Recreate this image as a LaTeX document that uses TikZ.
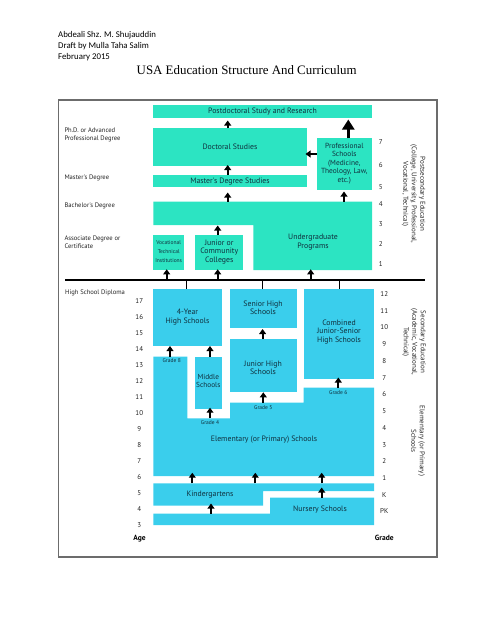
\documentclass[tikz,border=0pt]{standalone}
\usepackage{fontspec}
\setmainfont{Carlito}
\newfontfamily\dgfont{PT Sans}
\newfontfamily\titlefont{Liberation Serif}
\usetikzlibrary{arrows.meta}
\definecolor{tealbox}{RGB}{44,228,194}
\definecolor{bluebox}{RGB}{58,206,236}
\definecolor{boxtext}{RGB}{16,48,62}
\definecolor{numtext}{RGB}{35,35,35}
\begin{document}
\begin{tikzpicture}[x=1pt,y=-1pt,
  hdr/.style={anchor=west,inner sep=0,font=\fontsize{8.8}{10}\selectfont},
  lbl/.style={anchor=west,inner sep=0,align=left,text=numtext,font=\dgfont\fontsize{6.6}{8.2}\selectfont},
  boxlbl/.style={inner sep=0,align=center,text=boxtext,font=\dgfont\fontsize{7.8}{8.7}\selectfont},
  smalllbl/.style={inner sep=0,align=center,text=boxtext,font=\dgfont\fontsize{5.5}{8.7}\selectfont},
  num/.style={inner sep=0,text=numtext,font=\dgfont\fontsize{7}{8}\selectfont},
  sidelbl/.style={inner sep=0,align=center,rotate=-90,text=numtext,font=\dgfont\fontsize{7}{8.5}\selectfont},
  arr/.style={line width=1.9pt,-{Triangle[width=6.8pt,length=5pt]}},
  bigarr/.style={line width=2.8pt,-{Triangle[width=12pt,length=10pt]}},
  tick/.style={line width=1pt}]
\useasboundingbox (0,0) rectangle (495,640);

% header
\node[hdr] (h1) at (58,35) {Abdeali Shz. M. Shujauddin};
\node[hdr] (h2) at (58,46.5) {Draft by Mulla Taha Salim};
\node[hdr] (h3) at (58,57.5) {February 2015};
\node[anchor=west,inner sep=0,font=\titlefont\fontsize{12.9}{14}\selectfont] (title) at (136.5,70.5) {USA Education Structure And Curriculum};

% frame
\draw[gray!85!black,line width=1.6pt] (58.5,100) rectangle (437,557);

% ---------- postsecondary (teal) ----------
\fill[tealbox] (153.3,105) rectangle (372,118.3);
\node[boxlbl] (postdoc) at (262.6,111.8) {Postdoctoral Study and Research};
\fill[tealbox] (153.3,128.3) rectangle (307,166);
\node[boxlbl] (doctoral) at (230,147.2) {Doctoral Studies};
\fill[tealbox] (153.3,175) rectangle (307,187);
\node[boxlbl] (masters) at (230,181.2) {Master's Degree Studies};
\fill[tealbox] (153.3,201.7) -- (372,201.7) -- (372,270) -- (253.3,270) -- (253.3,225) -- (153.3,225) -- cycle;
\node[boxlbl] (undergrad) at (313,242) {Undergraduate\\Programs};
\fill[tealbox] (153.3,235) rectangle (184,269.5);
\node[smalllbl] (voc) at (168.7,251.5) {Vocational\\Technical\\Institutions};
\fill[tealbox] (195,235) rectangle (243.3,269.5);
\node[boxlbl] (jcc) at (219.2,252) {Junior or\\Community\\Colleges};
\fill[tealbox] (316.7,138.3) rectangle (372,190);
\node[boxlbl,font=\dgfont\fontsize{7.4}{8.5}\selectfont] (prof) at (344.3,163.5) {Professional\\Schools\\(Medicine,\\Theology, Law,\\etc.)};

% arrows postsecondary
\coordinate (a1t) at (227.7,128.3); \coordinate (a1h) at (227.7,120.5);
\draw[arr] (a1t) -- (a1h);
\coordinate (a2t) at (227.7,175); \coordinate (a2h) at (227.7,165);
\draw[arr] (a2t) -- (a2h);
\coordinate (a3t) at (227.7,201.7); \coordinate (a3h) at (227.7,192.5);
\draw[arr] (a3t) -- (a3h);
\coordinate (a4t) at (217.7,235); \coordinate (a4h) at (217.7,225.5);
\draw[arr] (a4t) -- (a4h);
\coordinate (a8t) at (344,201.7); \coordinate (a8h) at (344,191.5);
\draw[arr] (a8t) -- (a8h);
\coordinate (a9t) at (316.7,154); \coordinate (a9h) at (305.5,154);
\draw[arr] (a9t) -- (a9h);
\coordinate (a10t) at (348.3,138.3); \coordinate (a10h) at (348.3,119.5);
\draw[bigarr] (a10t) -- (a10h);

% main line and ticks
\coordinate (mlA) at (65,280); \coordinate (mlB) at (425,280);
\draw[line width=1.9pt] (mlA) -- (mlB);
\coordinate (t1a) at (186.7,280); \coordinate (t1b) at (186.7,289.3);
\coordinate (t2a) at (262.6,280); \coordinate (t2b) at (262.6,289.3);
\coordinate (t3a) at (339.3,280); \coordinate (t3b) at (339.3,289.3);
\draw[tick] (t1a) -- (t1b);
\draw[tick] (t2a) -- (t2b);
\draw[tick] (t3a) -- (t3b);
\coordinate (a5t) at (166.7,280); \coordinate (a5h) at (166.7,269.3);
\coordinate (a6t) at (217.7,280); \coordinate (a6h) at (217.7,269.3);
\coordinate (a7t) at (310.7,280); \coordinate (a7h) at (310.7,269.3);
\draw[arr] (a5t) -- (a5h);
\draw[arr] (a6t) -- (a6h);
\draw[arr] (a7t) -- (a7h);

% left labels
\node[lbl] (phd) at (64.3,135) {Ph.D. or Advanced\\Professional Degree};
\node[lbl] (md) at (64.3,178.3) {Master's Degree};
\node[lbl] (bd) at (64.3,206) {Bachelor's Degree};
\node[lbl] (ad) at (64.3,242.2) {Associate Degree or\\Certificate};
\node[lbl] (hsd) at (65,292.7) {High School Diploma};

% postsecondary years
\foreach \n/\y in {7/141.7,6/165,5/187.3,4/204.3,3/224,2/244,1/264}
  \node[num] (py\n) at (380.7,\y) {\n};
\node[sidelbl] (pse) at (413.5,194) {Postsecondary Education\\(College, University, Professional,\\Vocational, Technical)};

% ---------- secondary / elementary (blue) ----------
\fill[bluebox] (153.3,289.3) rectangle (221.7,346);
\node[boxlbl] (fouryr) at (187.5,316.7) {4-Year\\High Schools};
\fill[bluebox] (230,289.3) rectangle (296.7,327.7);
\node[boxlbl] (senior) at (263,307.8) {Senior High\\Schools};
\fill[bluebox] (304.3,289.3) rectangle (374,379);
\node[boxlbl] (combined) at (339,332) {Combined\\Junior-Senior\\High Schools};
\fill[bluebox] (230,339) rectangle (296.7,391.7);
\node[boxlbl] (junior) at (263,367.7) {Junior High\\Schools};
\fill[bluebox] (195,356.7) rectangle (221.7,409.3);
\node[boxlbl,font=\dgfont\fontsize{7.3}{8.5}\selectfont] (middle) at (208.3,380.8) {Middle\\Schools};
\fill[bluebox] (153.3,356.7) -- (187.3,356.7) -- (187.3,418.3) -- (230,418.3) -- (230,402.7) -- (303.5,402.7) -- (303.5,387.7) -- (374,387.7) -- (374,476) -- (153.3,476) -- cycle;
\node[boxlbl] (elem) at (264,439.3) {Elementary (or Primary) Schools};
\fill[bluebox] (153.3,483.3) -- (374,483.3) -- (374,491) -- (263,491) -- (263,505.7) -- (153.3,505.7) -- cycle;
\node[boxlbl] (kinder) at (210,495) {Kindergartens};
\fill[bluebox] (270,497.7) -- (374,497.7) -- (374,525) -- (153.3,525) -- (153.3,513.5) -- (270,513.5) -- cycle;
\node[boxlbl] (nursery) at (320,509.5) {Nursery Schools};

\node[smalllbl] (g8) at (171.7,360.7) {Grade 8};
\node[smalllbl] (g4) at (210,422.5) {Grade 4};
\node[smalllbl] (g5) at (263.3,407.3) {Grade 5};
\node[smalllbl] (g6) at (338.3,392.7) {Grade 6};

% arrows lower
\coordinate (b1t) at (170,356.7); \coordinate (b1h) at (170,346);
\coordinate (b2t) at (210,356.7); \coordinate (b2h) at (210,346);
\coordinate (b3t) at (262.6,339); \coordinate (b3h) at (262.6,329);
\coordinate (b4t) at (210,418.3); \coordinate (b4h) at (210,407.7);
\coordinate (b5t) at (263.3,402.7); \coordinate (b5h) at (263.3,392.3);
\coordinate (b6t) at (338.3,387.7); \coordinate (b6h) at (338.3,377.5);
\coordinate (b7t) at (192.3,483.3); \coordinate (b7h) at (192.3,472.7);
\coordinate (b8t) at (255.3,483.3); \coordinate (b8h) at (255.3,472.7);
\coordinate (b9t) at (321.7,483.3); \coordinate (b9h) at (321.7,472.7);
\coordinate (b10t) at (321.7,497.7); \coordinate (b10h) at (321.7,487.5);
\coordinate (b11t) at (211,513.5); \coordinate (b11h) at (211,503.5);
\foreach \i in {1,...,11} \draw[arr] (b\i t) -- (b\i h);

% ages
\foreach \a in {3,...,17}
  \node[num] (age\a) at (139.3,{300.6+(17-\a)*16}) {\a};
\node[num,font=\dgfont\bfseries\fontsize{7.5}{8}\selectfont,text=black] (agelbl) at (139.5,539) {Age};

% grades
\foreach \g in {1,...,12}
  \node[num] (gr\g) at (384.3,{294+(12-\g)*16.75}) {\g};
\node[num] (grK) at (384.3,495) {K};
\node[num] (grPK) at (384.3,511.5) {PK};
\node[num,font=\dgfont\bfseries\fontsize{7.5}{8}\selectfont,text=black] (gradelbl) at (384.3,537.7) {Grade};

\node[sidelbl] (sec) at (414,342) {Secondary Education\\(Academic, Vocational,\\Technical)};
\node[sidelbl] (elemside) at (418,441) {Elementary (or Primary)\\Schools};
\end{tikzpicture}
\end{document}
